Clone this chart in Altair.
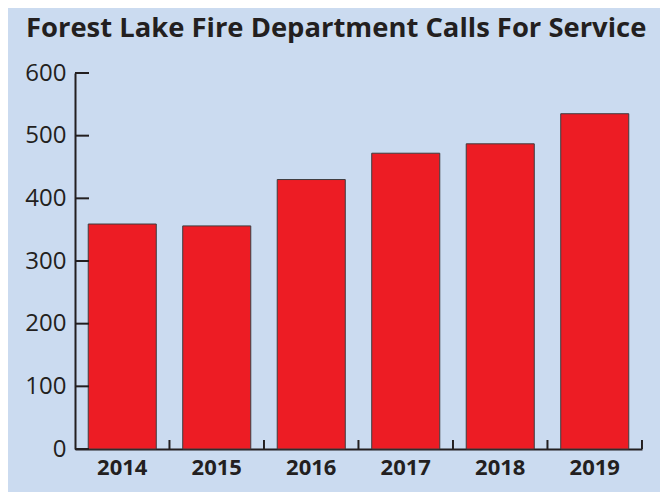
import altair as alt
import pandas as pd

years = ["2014", "2015", "2016", "2017", "2018", "2019"]
calls = [359, 356, 430, 472, 487, 535]
y_ticks = [0, 100, 200, 300, 400, 500, 600]

TITLE = "Forest Lake Fire Department Calls For Service"
BG = "#cbdbf0"
RED = "#ed1c24"
INK = "#231f20"

df = pd.DataFrame({"year": years, "calls": calls})
ticks_df = pd.DataFrame({"tick": y_ticks})

x_scale = alt.Scale(paddingInner=0.28, paddingOuter=0.14)
y_scale = alt.Scale(domain=[0, 600], nice=False, zero=True)

bars = alt.Chart(df).mark_bar(color=RED, stroke="#3d3d3f", strokeWidth=1).encode(
    x=alt.X("year:N", scale=x_scale, sort=years,
            axis=alt.Axis(title=None, ticks=False, labelAngle=0,
                          labelFont="Open Sans", labelFontWeight="bold",
                          labelFontSize=22, labelColor=INK, labelPadding=8,
                          domainColor=INK, domainWidth=2)),
    y=alt.Y("calls:Q", scale=y_scale,
            axis=alt.Axis(title=None, ticks=False, grid=False, values=y_ticks,
                          labelFont="Open Sans", labelFontSize=24,
                          labelColor=INK, labelPadding=9,
                          domainColor=INK, domainWidth=2)),
)

y_tick_rules = alt.Chart(ticks_df).mark_rule(color=INK, strokeWidth=2).encode(
    y=alt.Y("tick:Q", scale=y_scale),
    x=alt.value(0),
    x2=alt.value(14),
)

x_tick_rules = alt.Chart(df).mark_rule(color=INK, strokeWidth=2, xOffset=13.2).encode(
    x=alt.X("year:N", scale=x_scale, sort=years, bandPosition=1),
    y=alt.value(376),
    y2=alt.value(367),
)

chart = alt.layer(bars, y_tick_rules, x_tick_rules).properties(
    width=567,
    height=376,
    autosize=alt.AutoSizeParams(type="none"),
    padding={"left": 67, "top": 65, "right": 18, "bottom": 43},
    background=BG,
    title=alt.TitleParams(TITLE, font="Open Sans", fontWeight="bold",
                          fontSize=27.4, color=INK, anchor="start",
                          frame="group", dx=-49, dy=13, baseline="bottom",
                          offset=4),
).configure_view(stroke=None)

chart.save("out.html", embed_options={"renderer": "svg", "actions": False})
